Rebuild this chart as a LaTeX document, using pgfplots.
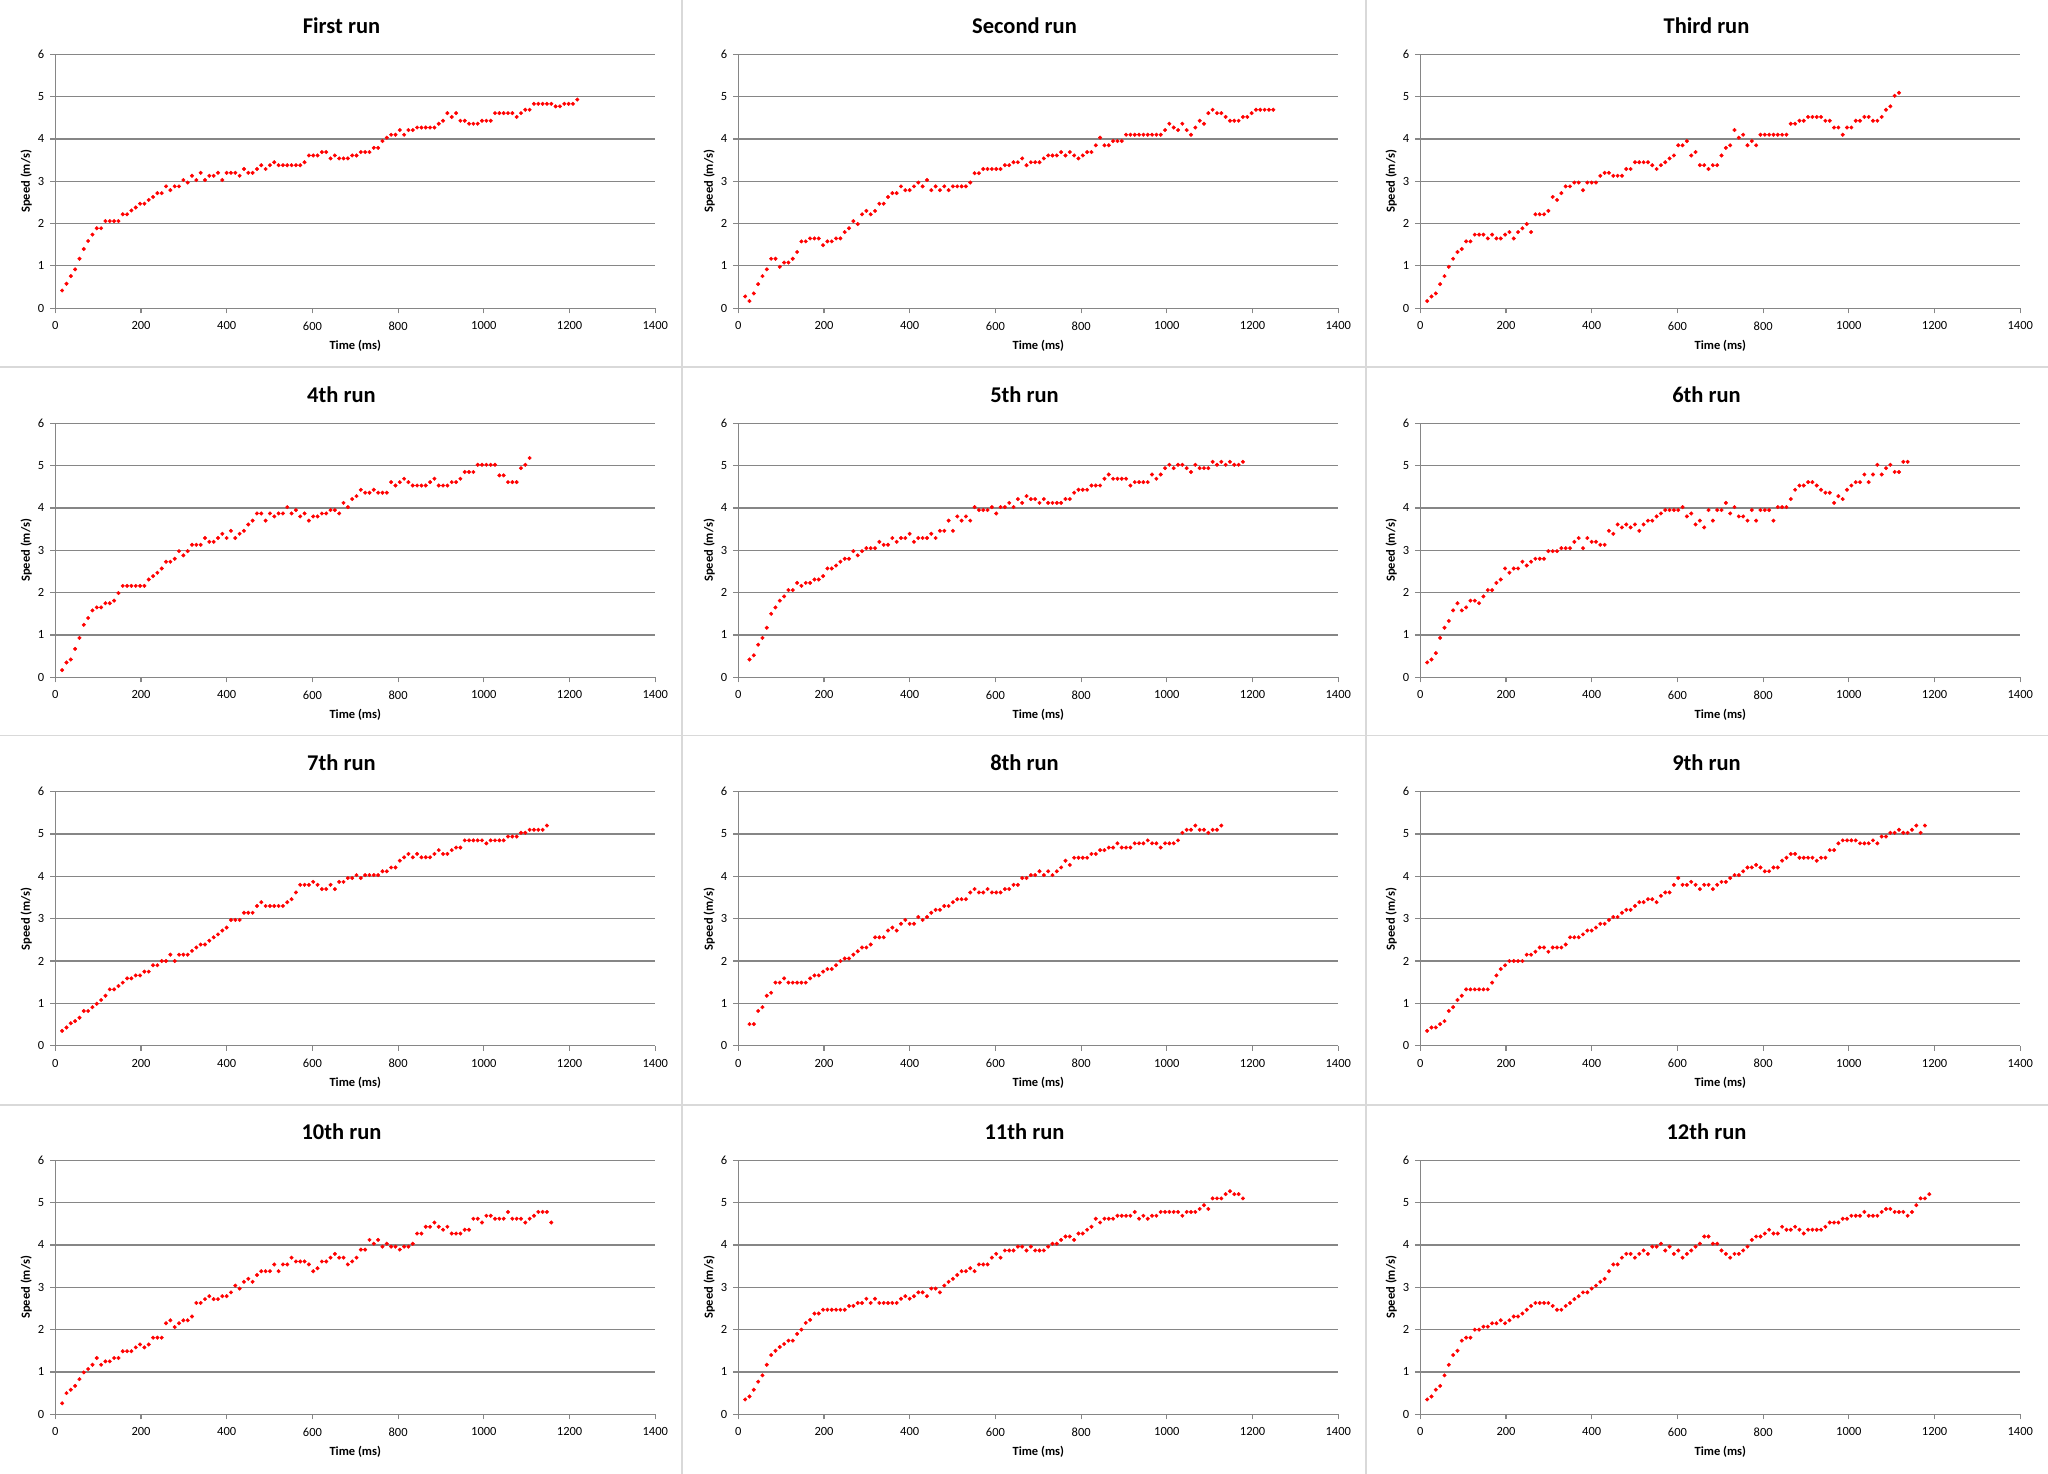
\documentclass[border=0pt]{standalone}
\usepackage{fontspec}
\setmainfont{Carlito}
\usepackage{pgfplots}
\pgfplotsset{compat=1.18}
\definecolor{gridgray}{RGB}{134,134,134}
\definecolor{sepgray}{RGB}{217,217,217}
\newcommand{\titlefont}{\fontsize{22.5}{27}\selectfont\bfseries}
\newcommand{\tickfont}{\fontsize{12.5}{15}\selectfont}
\newcommand{\labfont}{\fontsize{12.5}{15}\selectfont\bfseries}
\pgfplotsset{
  runaxis/.style={
    scale only axis, width=600pt, height=254pt, anchor=south west,
    xmin=0, xmax=1400, ymin=0, ymax=6,
    xtick={0,200,400,600,800,1000,1200,1400},
    ytick={0,1,2,3,4,5,6},
    axis x line*=bottom, axis y line*=left,
    axis line style={gridgray, line width=1.1pt},
    ymajorgrids, grid style={gridgray, line width=1.1pt},
    tick align=outside, major tick length=5pt,
    tick style={gridgray, line width=1.1pt},
    ticklabel style={font=\tickfont, text=black},
    xticklabel style={yshift=-5pt},
    yticklabel style={xshift=-2.5pt},
    /pgf/number format/assume math mode=true,
    /pgf/number format/1000 sep={},
    scaled ticks=false,
    xlabel={Time (ms)}, ylabel={Speed (m/s)},
    label style={font=\labfont, text=black},
    xlabel style={at={(axis description cs:0.5,-0.147)}, anchor=center},
    ylabel style={at={(axis description cs:-0.0483,0.5)}, anchor=center},
  },
  runplot/.style={only marks, mark=*, mark size=1.8pt, color=red, mark options={draw=red, fill=red}},
}
\begin{document}
\begin{tikzpicture}
\fill[white] (0,0) rectangle (2048pt,1474pt);
\path[use as bounding box] (0,0) rectangle (2048pt,1474pt);
\draw[sepgray, line width=1.5pt] (682pt,0) -- (682pt,1474pt);
\draw[sepgray, line width=1.5pt] (1366pt,0) -- (1366pt,1474pt);
\draw[sepgray, line width=1.5pt] (0,1107pt) -- (2048pt,1107pt);
\draw[sepgray, line width=1.5pt] (0,738.5pt) -- (2048pt,738.5pt);
\draw[sepgray, line width=1.5pt] (0,369pt) -- (2048pt,369pt);

% ---------- First run ----------
\begin{axis}[runaxis, at={(55.3pt,1165.7pt)}]
\addplot[runplot] coordinates {
(16,0.42)(26.1,0.58)(36.2,0.76)(46.3,0.92)(56.4,1.17)(66.5,1.40)(76.6,1.59)(86.7,1.74)(96.8,1.89)(106.9,1.89)
(117,2.06)(127.1,2.06)(137.2,2.06)(147.3,2.06)(157.4,2.22)(167.5,2.22)(177.6,2.31)(187.7,2.38)(197.8,2.47)(207.9,2.47)
(218,2.56)(228.1,2.63)(238.2,2.72)(248.3,2.72)(258.4,2.88)(268.5,2.79)(278.6,2.88)(288.7,2.88)(298.8,3.03)(308.9,2.97)
(319,3.13)(329.1,3.03)(339.2,3.20)(349.3,3.03)(359.4,3.13)(369.5,3.13)(379.6,3.20)(389.7,3.03)(399.8,3.20)(409.9,3.20)
(420,3.20)(430.1,3.13)(440.2,3.29)(450.3,3.20)(460.4,3.20)(470.5,3.29)(480.6,3.38)(490.7,3.29)(500.8,3.38)(510.9,3.45)
(521,3.38)(531.1,3.38)(541.2,3.38)(551.3,3.38)(561.4,3.38)(571.5,3.38)(581.6,3.45)(591.7,3.61)(601.8,3.61)(611.9,3.61)
(622,3.69)(632.1,3.69)(642.2,3.54)(652.3,3.61)(662.4,3.54)(672.5,3.54)(682.6,3.54)(692.7,3.61)(702.8,3.61)(712.9,3.69)
(723,3.69)(733.1,3.69)(743.2,3.79)(753.3,3.79)(763.4,3.95)(773.5,4.03)(783.6,4.10)(793.7,4.10)(803.8,4.21)(813.9,4.10)
(824,4.21)(834.1,4.21)(844.2,4.27)(854.3,4.27)(864.4,4.27)(874.5,4.27)(884.6,4.27)(894.7,4.36)(904.8,4.43)(914.9,4.61)
(925,4.52)(935.1,4.61)(945.2,4.43)(955.3,4.43)(965.4,4.36)(975.5,4.36)(985.6,4.36)(995.7,4.43)(1005.8,4.43)(1015.9,4.43)
(1026,4.61)(1036.1,4.61)(1046.2,4.61)(1056.3,4.61)(1066.4,4.61)(1076.5,4.52)(1086.6,4.61)(1096.7,4.69)(1106.8,4.69)(1116.9,4.83)
(1127,4.83)(1137.1,4.83)(1147.2,4.83)(1157.3,4.83)(1167.4,4.77)(1177.5,4.77)(1187.6,4.83)(1197.7,4.83)(1207.8,4.83)(1217.9,4.93)
};
\end{axis}
\node[font=\titlefont, xshift=286.2pt, yshift=283pt] at (55.3pt,1165.7pt) {First run};

% ---------- Second run ----------
\begin{axis}[runaxis, at={(738.3pt,1165.7pt)}]
\addplot[runplot] coordinates {
(16,0.28)(26.1,0.17)(36.2,0.35)(46.3,0.57)(56.4,0.76)(66.5,0.92)(76.6,1.17)(86.7,1.17)(96.8,0.98)(106.9,1.08)
(117,1.08)(127.1,1.17)(137.2,1.33)(147.3,1.58)(157.4,1.58)(167.5,1.65)(177.6,1.65)(187.7,1.65)(197.8,1.49)(207.9,1.58)
(218,1.58)(228.1,1.65)(238.2,1.65)(248.3,1.80)(258.4,1.89)(268.5,2.06)(278.6,1.99)(288.7,2.22)(298.8,2.30)(308.9,2.22)
(319,2.30)(329.1,2.47)(339.2,2.47)(349.3,2.63)(359.4,2.72)(369.5,2.72)(379.6,2.88)(389.7,2.79)(399.8,2.79)(409.9,2.88)
(420,2.97)(430.1,2.88)(440.2,3.03)(450.3,2.79)(460.4,2.88)(470.5,2.79)(480.6,2.88)(490.7,2.79)(500.8,2.88)(510.9,2.88)
(521,2.88)(531.1,2.88)(541.2,2.97)(551.3,3.19)(561.4,3.19)(571.5,3.29)(581.6,3.29)(591.7,3.29)(601.8,3.29)(611.9,3.29)
(622,3.38)(632.1,3.38)(642.2,3.45)(652.3,3.45)(662.4,3.54)(672.5,3.38)(682.6,3.45)(692.7,3.45)(702.8,3.45)(712.9,3.54)
(723,3.61)(733.1,3.61)(743.2,3.61)(753.3,3.69)(763.4,3.61)(773.5,3.69)(783.6,3.61)(793.7,3.54)(803.8,3.61)(813.9,3.69)
(824,3.69)(834.1,3.85)(844.2,4.03)(854.3,3.85)(864.4,3.85)(874.5,3.95)(884.6,3.95)(894.7,3.95)(904.8,4.10)(914.9,4.10)
(925,4.10)(935.1,4.10)(945.2,4.10)(955.3,4.10)(965.4,4.10)(975.5,4.10)(985.6,4.10)(995.7,4.21)(1005.8,4.36)(1015.9,4.27)
(1026,4.21)(1036.1,4.36)(1046.2,4.21)(1056.3,4.10)(1066.4,4.27)(1076.5,4.43)(1086.6,4.36)(1096.7,4.61)(1106.8,4.69)(1116.9,4.61)
(1127,4.61)(1137.1,4.52)(1147.2,4.43)(1157.3,4.43)(1167.4,4.43)(1177.5,4.52)(1187.6,4.52)(1197.7,4.61)(1207.8,4.69)(1217.9,4.69)
(1228,4.69)(1238.1,4.69)(1248.2,4.69)
};
\end{axis}
\node[font=\titlefont, xshift=286.2pt, yshift=283pt] at (738.3pt,1165.7pt) {Second run};

% ---------- Third run ----------
\begin{axis}[runaxis, at={(1420.3pt,1165.7pt)}]
\addplot[runplot] coordinates {
(16,0.17)(26.1,0.28)(36.2,0.35)(46.3,0.57)(56.4,0.76)(66.5,0.98)(76.6,1.17)(86.7,1.33)(96.8,1.40)(106.9,1.58)
(117,1.58)(127.1,1.74)(137.2,1.74)(147.3,1.74)(157.4,1.65)(167.5,1.74)(177.6,1.65)(187.7,1.65)(197.8,1.74)(207.9,1.80)
(218,1.65)(228.1,1.80)(238.2,1.89)(248.3,1.99)(258.4,1.80)(268.5,2.22)(278.6,2.22)(288.7,2.22)(298.8,2.30)(308.9,2.63)
(319,2.56)(329.1,2.72)(339.2,2.88)(349.3,2.88)(359.4,2.97)(369.5,2.97)(379.6,2.79)(389.7,2.97)(399.8,2.97)(409.9,2.97)
(420,3.13)(430.1,3.20)(440.2,3.20)(450.3,3.13)(460.4,3.13)(470.5,3.13)(480.6,3.29)(490.7,3.29)(500.8,3.45)(510.9,3.45)
(521,3.45)(531.1,3.45)(541.2,3.38)(551.3,3.29)(561.4,3.38)(571.5,3.45)(581.6,3.54)(591.7,3.61)(601.8,3.85)(611.9,3.85)
(622,3.95)(632.1,3.61)(642.2,3.69)(652.3,3.38)(662.4,3.38)(672.5,3.29)(682.6,3.38)(692.7,3.38)(702.8,3.61)(712.9,3.79)
(723,3.85)(733.1,4.21)(743.2,4.03)(753.3,4.10)(763.4,3.85)(773.5,3.95)(783.6,3.85)(793.7,4.10)(803.8,4.10)(813.9,4.10)
(824,4.10)(834.1,4.10)(844.2,4.10)(854.3,4.10)(864.4,4.36)(874.5,4.36)(884.6,4.43)(894.7,4.43)(904.8,4.52)(914.9,4.52)
(925,4.52)(935.1,4.52)(945.2,4.43)(955.3,4.43)(965.4,4.27)(975.5,4.27)(985.6,4.10)(995.7,4.27)(1005.8,4.27)(1015.9,4.43)
(1026,4.43)(1036.1,4.52)(1046.2,4.52)(1056.3,4.43)(1066.4,4.43)(1076.5,4.52)(1086.6,4.69)(1096.7,4.77)(1106.8,5.02)(1116.9,5.09)
};
\end{axis}
\node[font=\titlefont, xshift=286.2pt, yshift=283pt] at (1420.3pt,1165.7pt) {Third run};

% ---------- 4th run ----------
\begin{axis}[runaxis, at={(55.3pt,796.7pt)}]
\addplot[runplot] coordinates {
(16,0.17)(26.1,0.35)(36.2,0.42)(46.3,0.67)(56.4,0.93)(66.5,1.24)(76.6,1.40)(86.7,1.58)(96.8,1.65)(106.9,1.65)
(117,1.75)(127.1,1.75)(137.2,1.81)(147.3,1.99)(157.4,2.16)(167.5,2.16)(177.6,2.16)(187.7,2.16)(197.8,2.16)(207.9,2.16)
(218,2.31)(228.1,2.39)(238.2,2.47)(248.3,2.57)(258.4,2.73)(268.5,2.73)(278.6,2.80)(288.7,2.98)(298.8,2.88)(308.9,2.98)
(319,3.13)(329.1,3.13)(339.2,3.13)(349.3,3.29)(359.4,3.20)(369.5,3.20)(379.6,3.29)(389.7,3.39)(399.8,3.29)(409.9,3.46)
(420,3.29)(430.1,3.39)(440.2,3.46)(450.3,3.61)(460.4,3.70)(470.5,3.87)(480.6,3.87)(490.7,3.70)(500.8,3.87)(510.9,3.80)
(521,3.87)(531.1,3.87)(541.2,4.02)(551.3,3.87)(561.4,3.95)(571.5,3.80)(581.6,3.87)(591.7,3.70)(601.8,3.80)(611.9,3.80)
(622,3.87)(632.1,3.87)(642.2,3.95)(652.3,3.95)(662.4,3.87)(672.5,4.12)(682.6,4.02)(692.7,4.21)(702.8,4.28)(712.9,4.43)
(723,4.36)(733.1,4.36)(743.2,4.43)(753.3,4.36)(763.4,4.36)(773.5,4.36)(783.6,4.61)(793.7,4.53)(803.8,4.61)(813.9,4.69)
(824,4.61)(834.1,4.53)(844.2,4.53)(854.3,4.53)(864.4,4.53)(874.5,4.61)(884.6,4.69)(894.7,4.53)(904.8,4.53)(914.9,4.53)
(925,4.61)(935.1,4.61)(945.2,4.69)(955.3,4.85)(965.4,4.85)(975.5,4.85)(985.6,5.02)(995.7,5.02)(1005.8,5.02)(1015.9,5.02)
(1026,5.02)(1036.1,4.77)(1046.2,4.77)(1056.3,4.61)(1066.4,4.61)(1076.5,4.61)(1086.6,4.94)(1096.7,5.02)(1106.8,5.18)
};
\end{axis}
\node[font=\titlefont, xshift=286.2pt, yshift=283pt] at (55.3pt,796.7pt) {4th run};

% ---------- 5th run ----------
\begin{axis}[runaxis, at={(738.3pt,796.7pt)}]
\addplot[runplot] coordinates {
(26.1,0.42)(36.2,0.52)(46.3,0.77)(56.4,0.93)(66.5,1.17)(76.6,1.50)(86.7,1.65)(96.8,1.81)(106.9,1.91)
(117,2.06)(127.1,2.06)(137.2,2.23)(147.3,2.16)(157.4,2.23)(167.5,2.23)(177.6,2.31)(187.7,2.31)(197.8,2.39)(207.9,2.57)
(218,2.57)(228.1,2.64)(238.2,2.73)(248.3,2.80)(258.4,2.80)(268.5,2.98)(278.6,2.88)(288.7,2.98)(298.8,3.05)(308.9,3.05)
(319,3.05)(329.1,3.20)(339.2,3.13)(349.3,3.13)(359.4,3.29)(369.5,3.20)(379.6,3.29)(389.7,3.29)(399.8,3.39)(409.9,3.20)
(420,3.29)(430.1,3.29)(440.2,3.29)(450.3,3.39)(460.4,3.29)(470.5,3.46)(480.6,3.46)(490.7,3.70)(500.8,3.46)(510.9,3.80)
(521,3.70)(531.1,3.80)(541.2,3.70)(551.3,4.02)(561.4,3.95)(571.5,3.95)(581.6,3.95)(591.7,4.02)(601.8,3.87)(611.9,4.02)
(622,4.02)(632.1,4.12)(642.2,4.02)(652.3,4.21)(662.4,4.12)(672.5,4.28)(682.6,4.21)(692.7,4.21)(702.8,4.12)(712.9,4.21)
(723,4.12)(733.1,4.12)(743.2,4.12)(753.3,4.12)(763.4,4.21)(773.5,4.21)(783.6,4.36)(793.7,4.43)(803.8,4.43)(813.9,4.43)
(824,4.53)(834.1,4.53)(844.2,4.53)(854.3,4.69)(864.4,4.79)(874.5,4.69)(884.6,4.69)(894.7,4.69)(904.8,4.69)(914.9,4.53)
(925,4.61)(935.1,4.61)(945.2,4.61)(955.3,4.61)(965.4,4.79)(975.5,4.69)(985.6,4.79)(995.7,4.94)(1005.8,5.02)(1015.9,4.94)
(1026,5.02)(1036.1,5.02)(1046.2,4.94)(1056.3,4.85)(1066.4,5.02)(1076.5,4.94)(1086.6,4.94)(1096.7,4.94)(1106.8,5.09)(1116.9,5.02)
(1127,5.09)(1137.1,5.02)(1147.2,5.09)(1157.3,5.02)(1167.4,5.02)(1177.5,5.09)
};
\end{axis}
\node[font=\titlefont, xshift=286.2pt, yshift=283pt] at (738.3pt,796.7pt) {5th run};

% ---------- 6th run ----------
\begin{axis}[runaxis, at={(1420.3pt,796.7pt)}]
\addplot[runplot] coordinates {
(16,0.35)(26.1,0.42)(36.2,0.57)(46.3,0.93)(56.4,1.17)(66.5,1.33)(76.6,1.58)(86.7,1.75)(96.8,1.58)(106.9,1.65)
(117,1.81)(127.1,1.81)(137.2,1.75)(147.3,1.91)(157.4,2.06)(167.5,2.06)(177.6,2.23)(187.7,2.31)(197.8,2.57)(207.9,2.47)
(218,2.57)(228.1,2.57)(238.2,2.73)(248.3,2.64)(258.4,2.73)(268.5,2.80)(278.6,2.80)(288.7,2.80)(298.8,2.98)(308.9,2.98)
(319,2.98)(329.1,3.05)(339.2,3.05)(349.3,3.05)(359.4,3.20)(369.5,3.29)(379.6,3.05)(389.7,3.29)(399.8,3.20)(409.9,3.20)
(420,3.13)(430.1,3.13)(440.2,3.46)(450.3,3.39)(460.4,3.61)(470.5,3.54)(480.6,3.61)(490.7,3.54)(500.8,3.61)(510.9,3.46)
(521,3.61)(531.1,3.70)(541.2,3.70)(551.3,3.80)(561.4,3.87)(571.5,3.95)(581.6,3.95)(591.7,3.95)(601.8,3.95)(611.9,4.02)
(622,3.80)(632.1,3.87)(642.2,3.61)(652.3,3.70)(662.4,3.54)(672.5,3.95)(682.6,3.70)(692.7,3.95)(702.8,3.95)(712.9,4.12)
(723,3.87)(733.1,4.02)(743.2,3.80)(753.3,3.80)(763.4,3.70)(773.5,3.95)(783.6,3.70)(793.7,3.95)(803.8,3.95)(813.9,3.95)
(824,3.70)(834.1,4.02)(844.2,4.02)(854.3,4.02)(864.4,4.21)(874.5,4.43)(884.6,4.53)(894.7,4.53)(904.8,4.61)(914.9,4.61)
(925,4.53)(935.1,4.43)(945.2,4.36)(955.3,4.36)(965.4,4.12)(975.5,4.28)(985.6,4.21)(995.7,4.43)(1005.8,4.53)(1015.9,4.61)
(1026,4.61)(1036.1,4.79)(1046.2,4.61)(1056.3,4.79)(1066.4,5.02)(1076.5,4.79)(1086.6,4.94)(1096.7,5.02)(1106.8,4.85)(1116.9,4.85)
(1127,5.09)(1137.1,5.09)
};
\end{axis}
\node[font=\titlefont, xshift=286.2pt, yshift=283pt] at (1420.3pt,796.7pt) {6th run};

% ---------- 7th run ----------
\begin{axis}[runaxis, at={(55.3pt,428.3pt)}]
\addplot[runplot] coordinates {
(16,0.35)(26.1,0.43)(36.2,0.53)(46.3,0.58)(56.4,0.66)(66.5,0.82)(76.6,0.82)(86.7,0.91)(96.8,0.99)(106.9,1.08)
(117,1.18)(127.1,1.33)(137.2,1.33)(147.3,1.41)(157.4,1.49)(167.5,1.59)(177.6,1.59)(187.7,1.66)(197.8,1.66)(207.9,1.75)
(218,1.75)(228.1,1.90)(238.2,1.90)(248.3,2.00)(258.4,2.00)(268.5,2.15)(278.6,2.00)(288.7,2.15)(298.8,2.15)(308.9,2.15)
(319,2.24)(329.1,2.32)(339.2,2.39)(349.3,2.39)(359.4,2.48)(369.5,2.56)(379.6,2.63)(389.7,2.72)(399.8,2.79)(409.9,2.97)
(420,2.97)(430.1,2.97)(440.2,3.14)(450.3,3.14)(460.4,3.14)(470.5,3.30)(480.6,3.39)(490.7,3.30)(500.8,3.30)(510.9,3.30)
(521,3.30)(531.1,3.30)(541.2,3.39)(551.3,3.46)(561.4,3.62)(571.5,3.80)(581.6,3.80)(591.7,3.80)(601.8,3.87)(611.9,3.80)
(622,3.70)(632.1,3.70)(642.2,3.80)(652.3,3.70)(662.4,3.87)(672.5,3.87)(682.6,3.96)(692.7,3.96)(702.8,4.03)(712.9,3.96)
(723,4.03)(733.1,4.03)(743.2,4.03)(753.3,4.03)(763.4,4.12)(773.5,4.12)(783.6,4.21)(793.7,4.21)(803.8,4.37)(813.9,4.45)
(824,4.53)(834.1,4.45)(844.2,4.53)(854.3,4.45)(864.4,4.45)(874.5,4.45)(884.6,4.53)(894.7,4.62)(904.8,4.53)(914.9,4.53)
(925,4.62)(935.1,4.68)(945.2,4.68)(955.3,4.85)(965.4,4.85)(975.5,4.85)(985.6,4.85)(995.7,4.85)(1005.8,4.78)(1015.9,4.85)
(1026,4.85)(1036.1,4.85)(1046.2,4.85)(1056.3,4.94)(1066.4,4.94)(1076.5,4.94)(1086.6,5.03)(1096.7,5.03)(1106.8,5.10)(1116.9,5.10)
(1127,5.10)(1137.1,5.10)(1147.2,5.20)
};
\end{axis}
\node[font=\titlefont, xshift=286.2pt, yshift=283pt] at (55.3pt,428.3pt) {7th run};

% ---------- 8th run ----------
\begin{axis}[runaxis, at={(738.3pt,428.3pt)}]
\addplot[runplot] coordinates {
(26.1,0.51)(36.2,0.51)(46.3,0.82)(56.4,0.91)(66.5,1.18)(76.6,1.25)(86.7,1.49)(96.8,1.49)(106.9,1.59)
(117,1.49)(127.1,1.49)(137.2,1.49)(147.3,1.49)(157.4,1.49)(167.5,1.59)(177.6,1.66)(187.7,1.66)(197.8,1.75)(207.9,1.81)
(218,1.81)(228.1,1.90)(238.2,2.00)(248.3,2.06)(258.4,2.06)(268.5,2.15)(278.6,2.23)(288.7,2.32)(298.8,2.32)(308.9,2.39)
(319,2.56)(329.1,2.56)(339.2,2.56)(349.3,2.72)(359.4,2.79)(369.5,2.72)(379.6,2.88)(389.7,2.97)(399.8,2.88)(409.9,2.88)
(420,3.04)(430.1,2.97)(440.2,3.04)(450.3,3.14)(460.4,3.21)(470.5,3.21)(480.6,3.30)(490.7,3.30)(500.8,3.39)(510.9,3.46)
(521,3.46)(531.1,3.46)(541.2,3.62)(551.3,3.70)(561.4,3.62)(571.5,3.62)(581.6,3.70)(591.7,3.62)(601.8,3.62)(611.9,3.62)
(622,3.70)(632.1,3.70)(642.2,3.80)(652.3,3.80)(662.4,3.96)(672.5,3.96)(682.6,4.03)(692.7,4.03)(702.8,4.12)(712.9,4.03)
(723,4.12)(733.1,4.03)(743.2,4.12)(753.3,4.21)(763.4,4.37)(773.5,4.27)(783.6,4.44)(793.7,4.44)(803.8,4.44)(813.9,4.44)
(824,4.53)(834.1,4.53)(844.2,4.62)(854.3,4.62)(864.4,4.68)(874.5,4.68)(884.6,4.78)(894.7,4.68)(904.8,4.68)(914.9,4.68)
(925,4.78)(935.1,4.78)(945.2,4.78)(955.3,4.85)(965.4,4.78)(975.5,4.78)(985.6,4.68)(995.7,4.78)(1005.8,4.78)(1015.9,4.78)
(1026,4.85)(1036.1,5.03)(1046.2,5.10)(1056.3,5.10)(1066.4,5.20)(1076.5,5.10)(1086.6,5.10)(1096.7,5.03)(1106.8,5.10)(1116.9,5.10)
(1127,5.20)
};
\end{axis}
\node[font=\titlefont, xshift=286.2pt, yshift=283pt] at (738.3pt,428.3pt) {8th run};

% ---------- 9th run ----------
\begin{axis}[runaxis, at={(1420.3pt,428.3pt)}]
\addplot[runplot] coordinates {
(16,0.35)(26.1,0.43)(36.2,0.43)(46.3,0.51)(56.4,0.58)(66.5,0.82)(76.6,0.91)(86.7,1.08)(96.8,1.18)(106.9,1.33)
(117,1.33)(127.1,1.33)(137.2,1.33)(147.3,1.33)(157.4,1.33)(167.5,1.49)(177.6,1.66)(187.7,1.81)(197.8,1.90)(207.9,2.00)
(218,2.00)(228.1,2.00)(238.2,2.00)(248.3,2.15)(258.4,2.15)(268.5,2.22)(278.6,2.32)(288.7,2.32)(298.8,2.22)(308.9,2.32)
(319,2.32)(329.1,2.32)(339.2,2.39)(349.3,2.56)(359.4,2.56)(369.5,2.56)(379.6,2.63)(389.7,2.72)(399.8,2.72)(409.9,2.79)
(420,2.88)(430.1,2.88)(440.2,2.97)(450.3,3.04)(460.4,3.04)(470.5,3.14)(480.6,3.21)(490.7,3.21)(500.8,3.30)(510.9,3.39)
(521,3.39)(531.1,3.46)(541.2,3.46)(551.3,3.39)(561.4,3.54)(571.5,3.62)(581.6,3.62)(591.7,3.80)(601.8,3.96)(611.9,3.80)
(622,3.80)(632.1,3.87)(642.2,3.80)(652.3,3.70)(662.4,3.80)(672.5,3.80)(682.6,3.70)(692.7,3.80)(702.8,3.87)(712.9,3.87)
(723,3.96)(733.1,4.03)(743.2,4.03)(753.3,4.12)(763.4,4.21)(773.5,4.21)(783.6,4.27)(793.7,4.21)(803.8,4.12)(813.9,4.12)
(824,4.21)(834.1,4.21)(844.2,4.37)(854.3,4.44)(864.4,4.53)(874.5,4.53)(884.6,4.44)(894.7,4.44)(904.8,4.44)(914.9,4.44)
(925,4.37)(935.1,4.44)(945.2,4.44)(955.3,4.62)(965.4,4.62)(975.5,4.78)(985.6,4.85)(995.7,4.85)(1005.8,4.85)(1015.9,4.85)
(1026,4.78)(1036.1,4.78)(1046.2,4.78)(1056.3,4.85)(1066.4,4.78)(1076.5,4.94)(1086.6,4.94)(1096.7,5.03)(1106.8,5.03)(1116.9,5.10)
(1127,5.03)(1137.1,5.03)(1147.2,5.10)(1157.3,5.20)(1167.4,5.03)(1177.5,5.20)
};
\end{axis}
\node[font=\titlefont, xshift=286.2pt, yshift=283pt] at (1420.3pt,428.3pt) {9th run};

% ---------- 10th run ----------
\begin{axis}[runaxis, at={(55.3pt,59.7pt)}]
\addplot[runplot] coordinates {
(16,0.26)(26.1,0.50)(36.2,0.58)(46.3,0.67)(56.4,0.83)(66.5,0.99)(76.6,1.07)(86.7,1.17)(96.8,1.33)(106.9,1.17)
(117,1.25)(127.1,1.25)(137.2,1.33)(147.3,1.33)(157.4,1.49)(167.5,1.49)(177.6,1.49)(187.7,1.58)(197.8,1.65)(207.9,1.58)
(218,1.65)(228.1,1.81)(238.2,1.81)(248.3,1.81)(258.4,2.15)(268.5,2.22)(278.6,2.06)(288.7,2.15)(298.8,2.22)(308.9,2.22)
(319,2.31)(329.1,2.63)(339.2,2.63)(349.3,2.72)(359.4,2.79)(369.5,2.72)(379.6,2.72)(389.7,2.79)(399.8,2.79)(409.9,2.88)
(420,3.04)(430.1,2.97)(440.2,3.13)(450.3,3.20)(460.4,3.13)(470.5,3.29)(480.6,3.38)(490.7,3.38)(500.8,3.38)(510.9,3.54)
(521,3.38)(531.1,3.54)(541.2,3.54)(551.3,3.70)(561.4,3.61)(571.5,3.61)(581.6,3.61)(591.7,3.54)(601.8,3.38)(611.9,3.45)
(622,3.61)(632.1,3.61)(642.2,3.70)(652.3,3.79)(662.4,3.70)(672.5,3.70)(682.6,3.54)(692.7,3.61)(702.8,3.70)(712.9,3.89)
(723,3.89)(733.1,4.12)(743.2,4.03)(753.3,4.12)(763.4,3.96)(773.5,4.03)(783.6,3.96)(793.7,3.96)(803.8,3.89)(813.9,3.96)
(824,3.96)(834.1,4.03)(844.2,4.27)(854.3,4.27)(864.4,4.43)(874.5,4.43)(884.6,4.53)(894.7,4.43)(904.8,4.36)(914.9,4.43)
(925,4.27)(935.1,4.27)(945.2,4.27)(955.3,4.36)(965.4,4.36)(975.5,4.62)(985.6,4.62)(995.7,4.53)(1005.8,4.69)(1015.9,4.69)
(1026,4.62)(1036.1,4.62)(1046.2,4.62)(1056.3,4.78)(1066.4,4.62)(1076.5,4.62)(1086.6,4.62)(1096.7,4.53)(1106.8,4.62)(1116.9,4.69)
(1127,4.78)(1137.1,4.78)(1147.2,4.78)(1157.3,4.53)
};
\end{axis}
\node[font=\titlefont, xshift=286.2pt, yshift=283pt] at (55.3pt,59.7pt) {10th run};

% ---------- 11th run ----------
\begin{axis}[runaxis, at={(738.3pt,59.7pt)}]
\addplot[runplot] coordinates {
(16,0.35)(26.1,0.42)(36.2,0.58)(46.3,0.77)(56.4,0.92)(66.5,1.17)(76.6,1.40)(86.7,1.50)(96.8,1.59)(106.9,1.66)
(117,1.74)(127.1,1.74)(137.2,1.90)(147.3,2.00)(157.4,2.16)(167.5,2.23)(177.6,2.38)(187.7,2.38)(197.8,2.47)(207.9,2.47)
(218,2.47)(228.1,2.47)(238.2,2.47)(248.3,2.47)(258.4,2.56)(268.5,2.56)(278.6,2.63)(288.7,2.63)(298.8,2.73)(308.9,2.63)
(319,2.73)(329.1,2.63)(339.2,2.63)(349.3,2.63)(359.4,2.63)(369.5,2.63)(379.6,2.73)(389.7,2.79)(399.8,2.73)(409.9,2.79)
(420,2.88)(430.1,2.88)(440.2,2.79)(450.3,2.97)(460.4,2.97)(470.5,2.88)(480.6,3.04)(490.7,3.13)(500.8,3.20)(510.9,3.29)
(521,3.38)(531.1,3.38)(541.2,3.45)(551.3,3.38)(561.4,3.54)(571.5,3.54)(581.6,3.54)(591.7,3.70)(601.8,3.79)(611.9,3.70)
(622,3.87)(632.1,3.87)(642.2,3.87)(652.3,3.96)(662.4,3.96)(672.5,3.87)(682.6,3.96)(692.7,3.87)(702.8,3.87)(712.9,3.87)
(723,3.96)(733.1,4.03)(743.2,4.03)(753.3,4.12)(763.4,4.20)(773.5,4.20)(783.6,4.12)(793.7,4.27)(803.8,4.27)(813.9,4.36)
(824,4.43)(834.1,4.62)(844.2,4.53)(854.3,4.62)(864.4,4.62)(874.5,4.62)(884.6,4.69)(894.7,4.69)(904.8,4.69)(914.9,4.69)
(925,4.78)(935.1,4.62)(945.2,4.69)(955.3,4.62)(965.4,4.69)(975.5,4.69)(985.6,4.78)(995.7,4.78)(1005.8,4.78)(1015.9,4.78)
(1026,4.78)(1036.1,4.69)(1046.2,4.78)(1056.3,4.78)(1066.4,4.78)(1076.5,4.85)(1086.6,4.94)(1096.7,4.85)(1106.8,5.10)(1116.9,5.10)
(1127,5.10)(1137.1,5.20)(1147.2,5.27)(1157.3,5.20)(1167.4,5.20)(1177.5,5.10)
};
\end{axis}
\node[font=\titlefont, xshift=286.2pt, yshift=283pt] at (738.3pt,59.7pt) {11th run};

% ---------- 12th run ----------
\begin{axis}[runaxis, at={(1420.3pt,59.7pt)}]
\addplot[runplot] coordinates {
(16,0.35)(26.1,0.42)(36.2,0.58)(46.3,0.67)(56.4,0.92)(66.5,1.17)(76.6,1.40)(86.7,1.50)(96.8,1.74)(106.9,1.81)
(117,1.81)(127.1,2.00)(137.2,2.00)(147.3,2.07)(157.4,2.07)(167.5,2.15)(177.6,2.15)(187.7,2.22)(197.8,2.15)(207.9,2.22)
(218,2.31)(228.1,2.31)(238.2,2.38)(248.3,2.47)(258.4,2.56)(268.5,2.63)(278.6,2.63)(288.7,2.63)(298.8,2.63)(308.9,2.56)
(319,2.47)(329.1,2.47)(339.2,2.56)(349.3,2.63)(359.4,2.72)(369.5,2.79)(379.6,2.88)(389.7,2.88)(399.8,2.97)(409.9,3.04)
(420,3.13)(430.1,3.20)(440.2,3.38)(450.3,3.54)(460.4,3.54)(470.5,3.70)(480.6,3.79)(490.7,3.79)(500.8,3.70)(510.9,3.79)
(521,3.87)(531.1,3.79)(541.2,3.96)(551.3,3.96)(561.4,4.03)(571.5,3.87)(581.6,3.96)(591.7,3.79)(601.8,3.87)(611.9,3.70)
(622,3.79)(632.1,3.87)(642.2,3.96)(652.3,4.03)(662.4,4.20)(672.5,4.20)(682.6,4.03)(692.7,4.03)(702.8,3.87)(712.9,3.79)
(723,3.70)(733.1,3.79)(743.2,3.79)(753.3,3.87)(763.4,3.96)(773.5,4.12)(783.6,4.20)(793.7,4.20)(803.8,4.27)(813.9,4.36)
(824,4.27)(834.1,4.27)(844.2,4.43)(854.3,4.36)(864.4,4.36)(874.5,4.43)(884.6,4.36)(894.7,4.27)(904.8,4.36)(914.9,4.36)
(925,4.36)(935.1,4.36)(945.2,4.43)(955.3,4.53)(965.4,4.53)(975.5,4.53)(985.6,4.62)(995.7,4.62)(1005.8,4.69)(1015.9,4.69)
(1026,4.69)(1036.1,4.78)(1046.2,4.69)(1056.3,4.69)(1066.4,4.69)(1076.5,4.78)(1086.6,4.85)(1096.7,4.85)(1106.8,4.78)(1116.9,4.78)
(1127,4.78)(1137.1,4.69)(1147.2,4.78)(1157.3,4.94)(1167.4,5.10)(1177.5,5.10)(1187.6,5.20)
};
\end{axis}
\node[font=\titlefont, xshift=286.2pt, yshift=283pt] at (1420.3pt,59.7pt) {12th run};
\end{tikzpicture}
\end{document}
